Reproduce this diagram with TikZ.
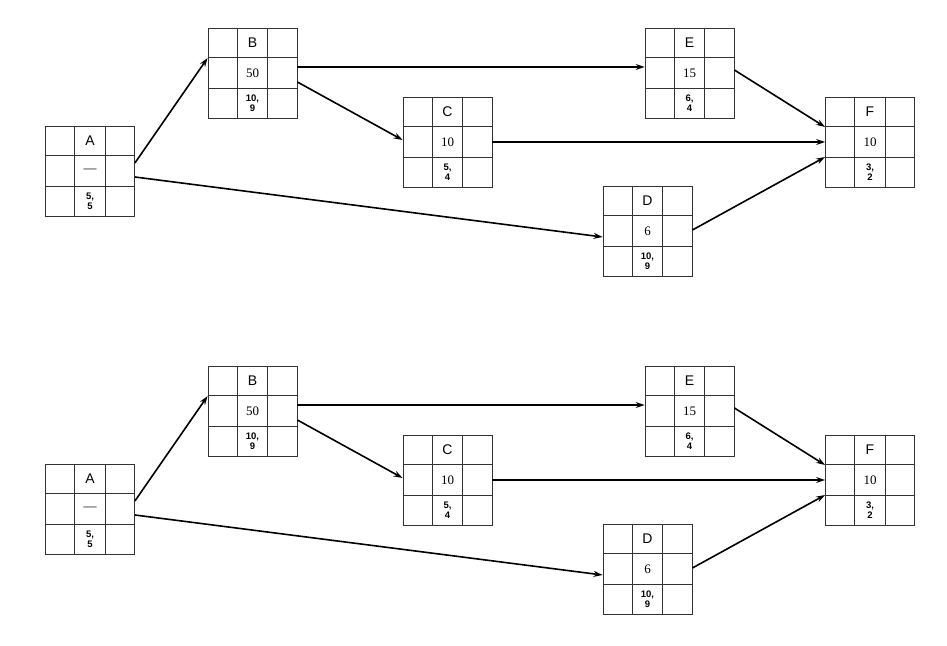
\documentclass[tikz,border=0pt]{standalone}
\usepackage{fontspec}
\setmainfont{Liberation Serif}
\newfontfamily\lsans{Liberation Sans}
\usetikzlibrary{arrows.meta,calc}
\tikzset{
  gbox/.style={draw=black!80, line width=0.8pt, minimum width=89pt, minimum height=90pt, inner sep=0pt},
  gline/.style={draw=black!80, line width=0.8pt},
  conn/.style={line width=1.6pt, -{Stealth[length=9pt,width=6pt]}},
  lett/.style={font=\lsans\fontsize{14}{14}\selectfont},
  numt/.style={font=\fontsize{13}{13}\selectfont},
  bott/.style={font=\lsans\bfseries\fontsize{9.5}{10}\selectfont, align=center}
}
\newcommand\gridnode[6]{%
  \node[gbox] (#1) at (#2,#3) {};
  \draw[gline] ($(#1.north west)+(29.7pt,0)$) -- ($(#1.south west)+(29.7pt,0)$);
  \draw[gline] ($(#1.north east)+(-29.7pt,0)$) -- ($(#1.south east)+(-29.7pt,0)$);
  \draw[gline] ($(#1.north west)+(0,-30pt)$) -- ($(#1.north east)+(0,-30pt)$);
  \draw[gline] ($(#1.south west)+(0,30pt)$) -- ($(#1.south east)+(0,30pt)$);
  \node[lett] at ($(#1.center)+(0,30pt)$) {#4};
  \node[numt] at (#1.center) {#5};
  \node[bott] at ($(#1.center)+(0,-30pt)$) {#6};
}
\newcommand\netw[1]{%
  \gridnode{A#1}{90}{171+#1}{A}{---}{5,\\5}
  \gridnode{B#1}{252.5}{73+#1}{B}{50}{10,\\9}
  \gridnode{C#1}{447.5}{142+#1}{C}{10}{5,\\4}
  \gridnode{E#1}{689.5}{73+#1}{E}{15}{6,\\4}
  \gridnode{F#1}{870}{142+#1}{F}{10}{3,\\2}
  \gridnode{D#1}{647.5}{231+#1}{D}{6}{10,\\9}
  \draw[conn] ($(A#1.east)+(0,8pt)$) -- ($(B#1.west)+(0,15pt)$);
  \draw[conn] ($(A#1.east)+(0,-6pt)$) -- ($(D#1.west)+(0,-6pt)$);
  \draw[conn] ($(B#1.east)+(0,6pt)$) -- ($(E#1.west)+(0,6pt)$);
  \draw[conn] ($(B#1.east)+(0,-9pt)$) -- ($(C#1.west)+(0,2pt)$);
  \draw[conn] (C#1.east) -- (F#1.west);
  \draw[conn] ($(E#1.east)+(0,3pt)$) -- ($(F#1.west)+(0,15pt)$);
  \draw[conn] ($(D#1.east)+(0,1pt)$) -- ($(F#1.west)+(0,-15pt)$);
}
\begin{document}
\begin{tikzpicture}[x=1pt,y=-1pt]
\fill[white] (0,0) rectangle (947,645);
\useasboundingbox (0,0) rectangle (947,645);
\netw{0}
\netw{338}
\end{tikzpicture}
\end{document}
